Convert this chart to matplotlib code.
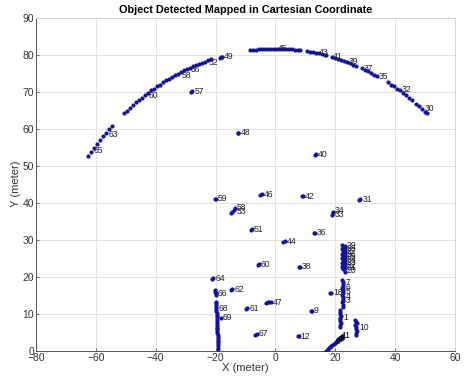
import matplotlib
matplotlib.use('Agg')
import matplotlib.pyplot as plt

plt.rcParams['font.family'] = ['Liberation Sans', 'DejaVu Sans']

# ---- track points (x, y in meters) ----
arc_a_x = [-62.5, -61.5, -60.5, -59.5, -58.5, -57.5, -56.5, -55.5, -54.7]
arc_a_y = [52.5, 53.6, 54.8, 55.8, 56.9, 57.9, 58.9, 59.8, 60.6]

arc_b_x = [-50.5, -49.5, -48.5, -47.5, -46.5, -45.5, -44.5, -43.5, -42.5, -41.5,
           -40.5, -39.5, -38.5, -37.5, -36.5, -35.5, -34.5, -33.5, -32.5, -31.5,
           -30.5, -29.5, -28.5, -27.5, -26.5, -25.5, -24.5, -23.5, -22.5, -21.5]
arc_b_y = [64.1, 64.9, 65.6, 66.3, 67.1, 67.7, 68.4, 69.0, 69.7, 70.3,
           70.8, 71.4, 71.9, 72.5, 73.0, 73.5, 73.9, 74.4, 74.8, 75.3,
           75.7, 76.1, 76.5, 76.8, 77.2, 77.5, 77.8, 78.1, 78.4, 78.7]

arc_49_x = [-18.6, -18.2, -17.9]
arc_49_y = [79.2, 79.3, 79.4]

arc_c_x = [-8.5, -7.5, -6.5, -5.5, -4.5, -3.5, -2.5, -1.5, -0.5, 0.5,
           1.5, 2.5, 3.5, 4.5, 5.5, 6.5, 7.5, 8.2]
arc_c_y = [81.2, 81.3, 81.3, 81.4, 81.5, 81.5, 81.6, 81.6, 81.6, 81.6,
           81.6, 81.6, 81.5, 81.5, 81.4, 81.3, 81.3, 81.2]

arc_d_x = [10.5, 11.5, 12.5, 13.5, 14.5, 15.5, 16.5, 17.0,
           19.0, 20.0, 21.0, 22.0, 23.0, 24.0, 25.0, 26.0, 27.0,
           29.0, 30.0, 31.0, 32.0, 33.0, 34.0,
           37.5, 38.5, 39.5, 40.5, 41.5, 42.5, 43.5, 44.5, 45.5,
           47.0, 48.0, 49.0, 50.0, 50.5]
arc_d_y = [80.9, 80.8, 80.6, 80.5, 80.3, 80.1, 79.9, 79.8,
           79.4, 79.1, 78.9, 78.6, 78.3, 78.0, 77.7, 77.3, 77.0,
           76.3, 75.9, 75.5, 75.1, 74.6, 74.2,
           72.5, 71.9, 71.4, 70.8, 70.3, 69.7, 69.0, 68.4, 67.7,
           66.7, 66.0, 65.3, 64.5, 64.1]

wall_x = [-20.1, -20.1, -20.0, -20.0,
          -19.9, -19.9, -19.9, -19.8, -19.8, -19.8, -19.7, -19.7, -19.7, -19.6,
          -19.6, -19.6, -19.5, -19.5, -19.5, -19.4, -19.4, -19.4, -19.3, -19.3,
          -19.3, -19.2, -19.2, -19.2, -19.1, -19.1]
wall_y = [16.4, 15.9, 15.5, 15.1,
          13.3, 12.8, 12.3, 11.8, 11.3, 10.8, 10.3, 9.8, 9.3, 8.8,
          8.3, 7.8, 7.3, 6.8, 6.3, 5.8, 5.3, 4.8, 4.3, 3.8,
          3.3, 2.8, 2.3, 1.8, 1.3, 0.5]

stack_x = [22.3, 23.1, 22.4, 23.2, 22.3, 23.1, 22.4, 23.2, 22.3, 23.1, 22.4, 23.2,
           22.3, 23.1, 22.4, 23.2, 22.3, 23.1, 22.4, 23.2, 22.3, 23.1, 22.4, 23.2]
stack_y = [28.6, 28.3, 28.0, 27.7, 27.4, 27.1, 26.8, 26.5, 26.2, 25.9, 25.6, 25.3,
           25.0, 24.7, 24.4, 24.1, 23.8, 23.5, 23.2, 22.9, 22.6, 22.3, 22.0, 21.4]

mid_x = [22.3, 22.6, 22.4, 22.7, 22.3, 22.6, 22.4, 22.7, 22.3, 22.6, 22.4, 22.7,
         22.3, 22.6, 22.4]
mid_y = [19.1, 18.6, 18.1, 17.6, 17.1, 16.6, 16.1, 15.6, 15.1, 14.6, 14.1, 13.6,
         13.1, 12.5, 11.9]

one_x = [21.5, 21.7, 21.5, 21.8, 21.6, 21.7, 21.5, 21.8, 21.6, 21.7]
one_y = [11.0, 10.5, 10.0, 9.5, 9.0, 8.5, 8.0, 7.5, 7.0, 6.5]

ten_x = [26.6, 26.9, 27.1, 26.7, 27.0, 26.8, 27.1, 26.9, 27.0]
ten_y = [8.4, 7.9, 7.4, 6.9, 6.4, 5.9, 5.3, 4.8, 4.3]

diag_x = [17.0, 17.4, 17.8, 18.2, 18.6, 19.0, 19.4, 19.8, 20.2, 20.6, 21.0, 21.4, 21.8, 22.1]
diag_y = [0.1, 0.4, 0.7, 1.0, 1.3, 1.6, 1.9, 2.2, 2.5, 2.8, 3.1, 3.4, 3.6, 3.9]

# small isolated detections
dots_x = [-12.6, -12.4, 13.2, 13.5, -5.0, -4.6, 8.7, 9.1, 27.9, 28.3,
          18.8, 19.1, 19.3, -15.0, -14.5, -14.0, -13.5, -20.3, -20.0,
          -8.3, -7.9, 12.8, 13.2, 2.6, 3.2, -6.0, -5.6, 7.9, 8.2,
          -21.2, -20.8, -14.8, -14.4, -3.2, -2.6, -2.1, -1.6, -9.8, -9.4,
          -6.8, -6.3, 7.4, 7.8, 11.8, 12.1, 18.2, 18.5, -28.2, -27.8, -18.3]
dots_y = [58.8, 58.9, 52.9, 53.1, 42.1, 42.3, 41.7, 41.8, 40.8, 41.0,
          36.8, 37.1, 37.5, 37.2, 37.6, 38.0, 38.5, 41.1, 41.1,
          32.7, 32.8, 31.8, 31.9, 29.5, 29.6, 23.3, 23.4, 22.6, 22.7,
          19.4, 19.6, 16.5, 16.6, 13.0, 13.1, 13.1, 13.2, 11.3, 11.5,
          4.4, 4.6, 3.9, 4.0, 10.7, 10.9, 15.6, 15.7, 70.0, 70.1, 9.0]

# ---- object id labels (anchor = last detection of the object) ----
label_txt = ['65', '63', '60', '58', '56', '52', '49', '45', '43', '41',
             '39', '37', '35', '32', '30', '57', '48', '40', '46', '42',
             '31', '34', '33', '58', '53', '59', '51', '36', '44', '60',
             '38', '64', '62', '66', '68', '69', '47', '61', '67', '12',
             '9', '18', '1', '10', '3', '4', '5', '6', '7',
             '20', '21', '22', '23', '24', '25', '26', '27', '28', '29']
label_x = [-61.3, -56.6, -43.2, -32.2, -28.9, -22.9, -17.9, 0.2, 13.9, 18.6,
           23.9, 28.9, 33.9, 41.6, 49.0, -27.8, -12.4, 13.5, -4.6, 9.1,
           28.3, 19.1, 19.1, -13.5, -13.8, -20.0, -7.9, 13.2, 3.2, -5.6,
           8.2, -20.8, -14.4, -19.9, -19.7, -18.3, -1.6, -9.4, -6.3, 7.8,
           12.1, 18.5, 22.0, 27.2, 22.7, 22.7, 22.7, 22.7, 22.7,
           23.2, 23.2, 23.2, 23.2, 23.2, 23.2, 23.2, 23.2, 23.2, 23.2]
label_y = [54.2, 58.5, 69.0, 74.4, 76.1, 77.9, 79.4, 81.6, 80.6, 79.5,
           78.1, 76.3, 74.1, 70.6, 65.5, 70.1, 58.9, 53.1, 42.3, 41.8,
           41.0, 37.9, 36.9, 38.6, 37.6, 41.1, 32.8, 31.9, 29.6, 23.4,
           22.7, 19.6, 16.6, 15.5, 11.5, 9.0, 13.2, 11.5, 4.6, 4.0,
           10.9, 15.7, 9.1, 6.4, 13.6, 14.8, 16.0, 17.2, 18.5,
           21.6, 22.4, 23.1, 23.9, 24.6, 25.4, 26.1, 26.9, 27.7, 28.4]

near_txt = ['0', '2', '8', '6', '11']
near_x = [20.2, 20.8, 21.3, 21.7, 22.0]
near_y = [2.5, 3.0, 3.3, 3.7, 4.1]

fig, ax = plt.subplots(figsize=(4.74, 3.81), dpi=100)
fig.subplots_adjust(left=0.076, right=0.96, bottom=0.079, top=0.954)

blue = '#14149a'
for xs, ys in [(arc_a_x, arc_a_y), (arc_b_x, arc_b_y), (arc_49_x, arc_49_y),
               (arc_c_x, arc_c_y), (arc_d_x, arc_d_y), (wall_x, wall_y),
               (stack_x, stack_y), (mid_x, mid_y), (one_x, one_y),
               (ten_x, ten_y), (diag_x, diag_y), (dots_x, dots_y)]:
    ax.plot(xs, ys, linestyle='none', marker='o', markersize=3.0,
            markeredgewidth=0, color=blue, zorder=3)

for t, x, y in zip(label_txt, label_x, label_y):
    ax.annotate(t, (x, y), xytext=(1.5, 0), textcoords='offset points',
                ha='left', va='center', fontsize=6.2, color='#222222', zorder=4)
for t, x, y in zip(near_txt, near_x, near_y):
    ax.annotate(t, (x, y), xytext=(0, 0), textcoords='offset points',
                ha='left', va='center', fontsize=6.2, color='black', zorder=4)

ax.set_xlim(-80, 60)
ax.set_ylim(0, 90)
ax.set_xticks(range(-80, 61, 20))
ax.set_yticks(range(0, 91, 10))
ax.grid(True, color='#e3e3e3', linewidth=0.7)
ax.set_axisbelow(True)
for side in ['top', 'right']:
    ax.spines[side].set_color('#d0d0d0')
    ax.spines[side].set_linewidth(0.6)
for side in ['bottom', 'left']:
    ax.spines[side].set_color('#555555')
    ax.spines[side].set_linewidth(0.7)
ax.tick_params(direction='in', length=2.5, width=0.6, color='#555555',
               labelsize=7.5, labelcolor='#333333', pad=1.5)

ax.set_title('Object Detected Mapped in Cartesian Coordinate',
             fontsize=7.8, fontweight='bold', pad=3)
ax.set_xlabel('X (meter)', fontsize=8, color='#333333', labelpad=0)
ax.set_ylabel('Y (meter)', fontsize=8, color='#333333', labelpad=1)

plt.savefig('out.png', dpi=100)
